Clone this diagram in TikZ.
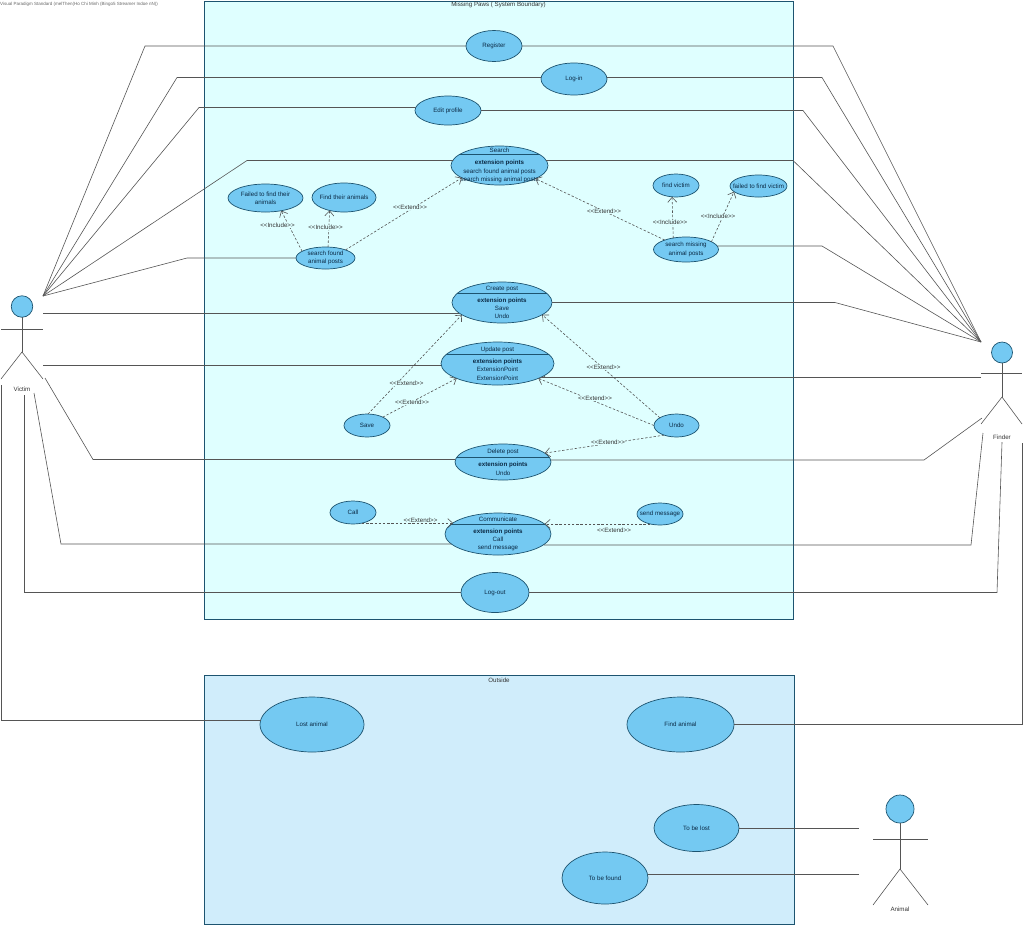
\documentclass[tikz,border=0pt]{standalone}
\usepackage{fontspec}
\setmainfont{Liberation Sans}
\usetikzlibrary{shapes.geometric,arrows.meta}
\definecolor{boundaryFill}{HTML}{DFFFFF}
\definecolor{outsideFill}{HTML}{D0EDFB}
\definecolor{caseFill}{HTML}{74C9F2}
\definecolor{caseLine}{HTML}{1D5470}
\definecolor{caseText}{HTML}{0B2A45}
\definecolor{wire}{HTML}{555555}

\tikzset{
    every node/.style={font=\fontsize{6.2}{8.4}\selectfont},
    every label/.style={align=center, text=caseText, inner sep=0pt},
    usecase/.style={ellipse, draw=caseLine, line width=0.7pt, fill=caseFill, inner sep=0pt, outer sep=0pt},
    divider/.style={path picture={\draw[caseLine, line width=0.7pt] ([yshift=#1]path picture bounding box.west) -- ([yshift=#1]path picture bounding box.east);}},
    system/.style={draw=caseLine, line width=0.7pt},
    tag/.style={text=black!80, inner sep=0.5pt},
    wired/.style={draw=wire, line width=0.6pt},
    depend/.style={draw=wire, line width=0.6pt, dashed, dash pattern=on 2.4pt off 1.8pt, -{Straight Barb[length=5pt,width=9pt]}},
    limb/.style={draw=wire, line width=0.6pt},
    head/.style={circle, draw=caseLine, line width=0.7pt, fill=caseFill, inner sep=0pt, outer sep=0pt}
}

\begin{document}
\begin{tikzpicture}[x=1pt, y=-1pt]
    \useasboundingbox (0,0) rectangle (1024,927);

    % Boundaries
    \node[system, fill=boundaryFill, rectangle, minimum width=589pt, minimum height=618pt, inner sep=0pt] (missingpaws) at (498.5,310) {};
    \node[system, fill=outsideFill, rectangle, minimum width=590pt, minimum height=249pt, inner sep=0pt] (outside) at (499,799.5) {};
    \node[tag] (missingpawstitle) at (498.5,5) {Missing Paws ( System Boundary)};
    \node[tag] (outsidetitle) at (499,680) {Outside};
    \node[text=black!60, anchor=west, inner sep=0pt, font=\fontsize{4.5}{5}\selectfont] (watermark) at (0,4) {Visual Paradigm Standard (melThen(Ho Chi Minh (Bingo5 Streamer Indoe nN))};

    % Top use cases
    \node[usecase, minimum width=56pt, minimum height=31pt, label={center:Register}] (register) at (494,46) {};
    \node[usecase, minimum width=66pt, minimum height=32pt, label={center:Log-in}] (login) at (574,79) {};
    \node[usecase, minimum width=66pt, minimum height=29pt, label={center:Edit profile}] (editprofile) at (448,110.5) {};

    % Search group
    \node[usecase, divider=11.5pt, minimum width=97pt, minimum height=39pt, label={center:Search\\[3.5pt]\textbf{extension points}\\search found animal posts\\search missing animal posts}] (search) at (499.5,165.5) {};
    \node[usecase, minimum width=75pt, minimum height=28pt, label={center:Failed to find their\\animals}] (failedanimals) at (265.5,198) {};
    \node[usecase, minimum width=64pt, minimum height=29pt, label={center:Find their animals}] (findanimals) at (344,197.5) {};
    \node[usecase, minimum width=59pt, minimum height=22pt, label={center:search found\\animal posts}] (searchfound) at (325.5,258) {};
    \node[usecase, minimum width=46pt, minimum height=23pt, label={center:find victim}] (findvictim) at (676,185.5) {};
    \node[usecase, minimum width=57pt, minimum height=22pt, label={center:failed to find victim}] (failedvictim) at (758.5,186) {};
    \node[usecase, minimum width=65pt, minimum height=25pt, label={center:search missing\\animal posts}] (searchmissing) at (686,249.5) {};

    % Post group
    \node[usecase, divider=9.5pt, minimum width=100pt, minimum height=41pt, label={center:Create post\\[3.5pt]\textbf{extension points}\\Save\\Undo}] (createpost) at (502,302.5) {};
    \node[usecase, divider=9.5pt, minimum width=113pt, minimum height=43pt, label={center:Update post\\[3.5pt]\textbf{extension points}\\ExtensionPoint\\ExtensionPoint}] (updatepost) at (497.5,363.5) {};
    \node[usecase, minimum width=46pt, minimum height=23pt, label={center:Save}] (save) at (367,425.5) {};
    \node[usecase, minimum width=45pt, minimum height=23pt, label={center:Undo}] (undo) at (676.5,425.5) {};
    \node[usecase, divider=5pt, minimum width=96pt, minimum height=36pt, label={center:Delete post\\[5pt]\textbf{extension points}\\Undo}] (deletepost) at (503,462) {};

    % Communicate group
    \node[usecase, minimum width=46pt, minimum height=23pt, label={center:Call}] (call) at (353,512.5) {};
    \node[usecase, divider=10pt, minimum width=106pt, minimum height=42pt, label={center:Communicate\\[3.5pt]\textbf{extension points}\\Call\\send message}] (communicate) at (498,534) {};
    \node[usecase, minimum width=46pt, minimum height=22pt, label={center:send message}] (sendmessage) at (660,514) {};
    \node[usecase, minimum width=68pt, minimum height=40pt, label={center:Log-out}] (logout) at (495,592.5) {};

    % Outside use cases
    \node[usecase, minimum width=104pt, minimum height=55pt, label={center:Lost animal}] (lostanimal) at (312,724.5) {};
    \node[usecase, minimum width=107pt, minimum height=55pt, label={center:Find animal}] (findanimal) at (680.5,724.5) {};
    \node[usecase, minimum width=85pt, minimum height=47pt, label={center:To be lost}] (tobelost) at (696.5,828) {};
    \node[usecase, minimum width=86pt, minimum height=52pt, label={center:To be found}] (tobefound) at (605,878) {};

    % Victim
    \node[head, minimum size=21.5pt] (victimhead) at (22,306.5) {};
    \coordinate (victimhip) at (22,352);
    \draw[limb] (victimhead) -- (victimhip);
    \draw[limb] (1,329) -- (43,329);
    \draw[limb] (1,379) -- (victimhip) -- (43,379);
    \node[tag] (victim) at (22,389.5) {Victim};

    % Finder
    \node[head, minimum size=21pt] (finderhead) at (1002,352.5) {};
    \coordinate (finderhip) at (1002,397);
    \draw[limb] (finderhead) -- (finderhip);
    \draw[limb] (981,373) -- (1022,373);
    \draw[limb] (981,424) -- (finderhip) -- (1022,424);
    \node[tag] (finder) at (1002,437) {Finder};

    % Animal
    \node[head, minimum size=28pt] (animalhead) at (900,809) {};
    \coordinate (animalhip) at (900,869);
    \draw[limb] (animalhead) -- (animalhip);
    \draw[limb] (873,839) -- (928,839);
    \draw[limb] (873,905) -- (animalhip) -- (928,905);
    \node[tag] (animal) at (900,909) {Animal};

    % Free ends at the actors
    \coordinate (victimfan) at (43,296);
    \coordinate (victimcreate) at (43,313);
    \coordinate (victimupdate) at (43,365);
    \coordinate (victimdelete) at (45,378);
    \coordinate (victimcall) at (34,393);
    \coordinate (victimlogout) at (24,395);
    \coordinate (victimlost) at (1.5,385);
    \coordinate (finderfan) at (981,342);
    \coordinate (finderupdate) at (981,377);
    \coordinate (finderdelete) at (982,418);
    \coordinate (findercall) at (983,433);
    \coordinate (finderlogout) at (1002,442);
    \coordinate (finderfind) at (1022,443);
    \coordinate (animallost) at (859,828);
    \coordinate (animalfound) at (859,874);

    % Victim wires
    \draw[wired] (victimfan) -- (145,46) -- (register);
    \draw[wired] (victimfan) -- (177,77.5) -- (login.177 |- 177,77.5);
    \draw[wired] (victimfan) -- (199,107.5) -- (editprofile.175 |- 199,107.5);
    \draw[wired] (victimfan) -- (247,160.5) -- (search.173 |- 247,160.5);
    \draw[wired] (victimfan) -- (187,258) -- (searchfound);
    \draw[wired] (victimcreate) -- (createpost.194 |- victimcreate);
    \draw[wired] (victimupdate) -- (updatepost.west |- victimupdate);
    \draw[wired] (victimdelete) -- (93,459.5) -- (deletepost.west |- 93,459.5);
    \draw[wired] (victimcall) -- (61,544) -- (communicate.192 |- 61,544);
    \draw[wired] (victimlogout) -- (24,592.5) -- (logout);
    \draw[wired] (victimlost) -- (1.5,720) -- (lostanimal.175 |- 1.5,720);

    % Finder wires
    \draw[wired] (finderfan) -- (833,46) -- (register);
    \draw[wired] (finderfan) -- (822,77.5) -- (login.3 |- 822,77.5);
    \draw[wired] (finderfan) -- (803,110.5) -- (editprofile);
    \draw[wired] (finderfan) -- (793,160.5) -- (search.7 |- 793,160.5);
    \draw[wired] (finderfan) -- (822,246) -- (searchmissing.6 |- 822,246);
    \draw[wired] (finderfan) -- (835,302.5) -- (createpost);
    \draw[wired] (finderupdate) -- (updatepost.-17 |- finderupdate);
    \draw[wired] (finderdelete) -- (924,460) -- (deletepost.east |- 924,460);
    \draw[wired] (findercall) -- (971,545) -- (communicate.-13 |- 971,545);
    \draw[wired] (finderlogout) -- (997,592.5) -- (logout);
    \draw[wired] (finderfind) -- (1022,724.5) -- (findanimal);

    % Animal wires
    \draw[wired] (animallost) -- (tobelost);
    \draw[wired] (animalfound) -- (tobefound.5 |- animalfound);

    % Include and extend arrows
    \draw[depend] (searchfound.164) -- (failedanimals.321);
    \draw[depend] (searchfound.77) -- (findanimals.222);
    \draw[depend] (searchfound.22) -- (search.198);
    \draw[depend] (searchmissing.156) -- (search.-20);
    \draw[depend] (searchmissing.138) -- (findvictim.251);
    \draw[depend] (searchmissing.17) -- (failedvictim.193);
    \draw[depend] (save.85) -- (createpost.197);
    \draw[depend] (save.28) -- (updatepost.200);
    \draw[depend] (undo.155) -- (createpost.-17);
    \draw[depend] (undo.180) -- (updatepost.-20);
    \draw[depend] (undo.218) -- (deletepost.12);
    \draw[depend] (call.-50) -- (communicate.166 |- call.-50);
    \draw[depend] (sendmessage.225) -- (communicate.12 |- sendmessage.225);

    % Arrow labels
    \node[tag, fill=boundaryFill] (inclfailed) at (277.5,225.5) {<{}<Include>{}>};
    \node[tag, fill=boundaryFill] (inclfind) at (325.5,227.5) {<{}<Include>{}>};
    \node[tag, fill=boundaryFill] (extfound) at (410,207.5) {<{}<Extend>{}>};
    \node[tag, fill=boundaryFill] (extmissing) at (604,211.5) {<{}<Extend>{}>};
    \node[tag, fill=boundaryFill] (inclvictim) at (670,222.5) {<{}<Include>{}>};
    \node[tag, fill=boundaryFill] (inclfailedvictim) at (718,216.5) {<{}<Include>{}>};
    \node[tag, fill=boundaryFill] (extsavecreate) at (406.5,383.5) {<{}<Extend>{}>};
    \node[tag, fill=boundaryFill] (extsaveupdate) at (412,402.5) {<{}<Extend>{}>};
    \node[tag, fill=boundaryFill] (extundocreate) at (603.5,367.5) {<{}<Extend>{}>};
    \node[tag, fill=boundaryFill] (extundoupdate) at (595,398.5) {<{}<Extend>{}>};
    \node[tag, fill=boundaryFill] (extundodelete) at (608,442) {<{}<Extend>{}>};
    \node[tag, fill=boundaryFill] (extcall) at (420.5,520) {<{}<Extend>{}>};
    \node[tag, fill=boundaryFill] (extsend) at (614,530) {<{}<Extend>{}>};
\end{tikzpicture}
\end{document}
